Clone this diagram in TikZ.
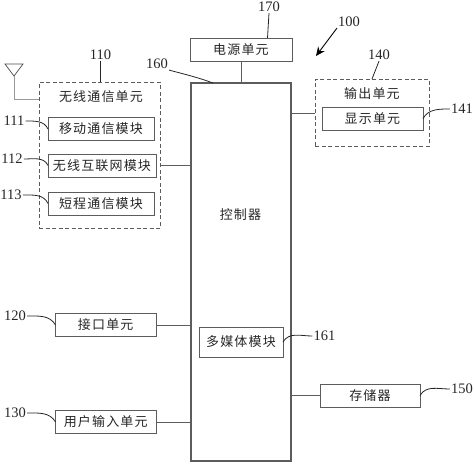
\documentclass[tikz,border=0pt]{standalone}
\usepackage{fontspec}
\setmainfont{Liberation Serif}
\newfontfamily\cjk[LetterSpace=9]{Noto Sans CJK SC}
\usetikzlibrary{arrows.meta}

\definecolor{linegray}{gray}{0.36}
\definecolor{inkgray}{gray}{0.15}

\begin{document}
\begin{tikzpicture}[
  x=1pt, y=-1pt,
  >={Stealth[length=9pt, width=8pt]},
  box/.style={draw=linegray, line width=1pt, outer sep=0pt, inner sep=0pt,
              minimum height=23pt, text=inkgray, font=\fontsize{13}{15}\cjk},
  group/.style={draw=linegray, line width=1pt, dash pattern=on 4pt off 2.5pt,
                outer sep=0pt, inner sep=0pt},
  txt/.style={text=inkgray, inner sep=0pt, font=\fontsize{13}{15}\cjk},
  num/.style={text=inkgray, inner sep=1pt, font=\fontsize{14.5}{16}\selectfont},
  wire/.style={draw=linegray, line width=0.8pt},
  leader/.style={draw=black!85, line width=0.8pt}
]
  \useasboundingbox (0,0) rectangle (474,464);

  % controller and power
  \node[box, line width=1.2pt, minimum width=100pt, minimum height=378pt] (ctrl) at (241,272) {};
  \node[txt] (ctrlname) at (240.5,215) {控制器};
  \node[box, minimum width=102pt] (power) at (241,49.5) {电源单元};
  \node[box, minimum width=84pt, minimum height=30pt] (media) at (241,342) {多媒体模块};

  % wireless group
  \node[group, minimum width=121pt, minimum height=146pt] (wl) at (99.5,155) {};
  \node[txt] (wlname) at (101,97) {无线通信单元};
  \node[box, minimum width=106pt] (mob) at (101,129) {移动通信模块};
  \node[box, minimum width=108pt] (net) at (102,165.5) {无线互联网模块};
  \node[box, minimum width=106pt] (near) at (101,203.5) {短程通信模块};

  % output group
  \node[group, minimum width=114pt, minimum height=67pt] (outp) at (372,112.5) {};
  \node[txt] (outname) at (372,94) {输出单元};
  \node[box, minimum width=101pt] (disp) at (372.5,118.5) {显示单元};

  % other units
  \node[box, minimum width=100.5pt] (port) at (105.75,325) {接口单元};
  \node[box, minimum width=100.5pt] (input) at (105.75,422) {用户输入单元};
  \node[box, minimum width=100pt] (mem) at (370,395.5) {存储器};

  % antenna
  \coordinate (antL) at (5,64);
  \coordinate (antR) at (23,64);
  \coordinate (antB) at (14,76);
  \coordinate (antK) at (14,99.5);
  \draw[draw=black!70, line width=0.7pt] (antL) -- (antR) -- (antB) -- cycle;
  \draw[draw=black!40, line width=0.9pt] (antB) -- (antK) -- (antK -| wl.west);

  % wires to controller
  \draw[wire] (wl.east |- net) -- (ctrl.west |- net);
  \draw[wire] (port) -- (port -| ctrl.west);
  \draw[wire] (input) -- (input -| ctrl.west);
  \draw[wire] (ctrl.east |- mem) -- (mem);
  \draw[wire] (ctrl.east |- 0,113) -- (outp.west |- 0,113);
  \draw[wire] (power) -- (ctrl.north -| power);

  % numbers
  \node[num] (n100) at (349,22) {100};
  \node[num] (n110) at (100.5,54.5) {110};
  \node[num] (n111) at (14,121) {111};
  \node[num] (n112) at (12,159) {112};
  \node[num] (n113) at (11,195) {113};
  \node[num] (n120) at (15,316) {120};
  \node[num] (n130) at (15,413) {130};
  \node[num] (n140) at (379,55) {140};
  \node[num] (n141) at (462,109) {141};
  \node[num] (n150) at (462,389) {150};
  \node[num] (n160) at (157,64) {160};
  \node[num] (n161) at (324.5,336) {161};
  \node[num] (n170) at (269,7) {170};

  % leaders
  \coordinate (tip100) at (316,56);
  \draw[->, black, line width=0.9pt] (n100.south west) -- (tip100);
  \draw[leader] (n110.south) -- (n110.south |- wl.north);
  \draw[leader] (n111.east) to[out=0, in=115] (mob.west);
  \draw[leader] (n112.east) to[out=0, in=115] (net.west);
  \draw[leader] (n113.east) to[out=0, in=115] (near.west);
  \draw[leader] (n120.east) to[out=0, in=120] (port.west);
  \draw[leader] (n130.east) to[out=0, in=120] (input.west);
  \draw[leader] (n140.south) -- (outp.north);
  \draw[leader] (n141.west) to[out=180, in=60] (disp.east);
  \draw[leader] (n150.west) to[out=180, in=60] (mem.east);
  \draw[leader] (n160.south east) to[out=-15, in=160] (ctrl.north -| 213,0);
  \draw[leader] (n161.west) to[out=180, in=60] (media.east);
  \draw[leader] (n170.south) -- (power.north -| 267.5,0);
\end{tikzpicture}
\end{document}
